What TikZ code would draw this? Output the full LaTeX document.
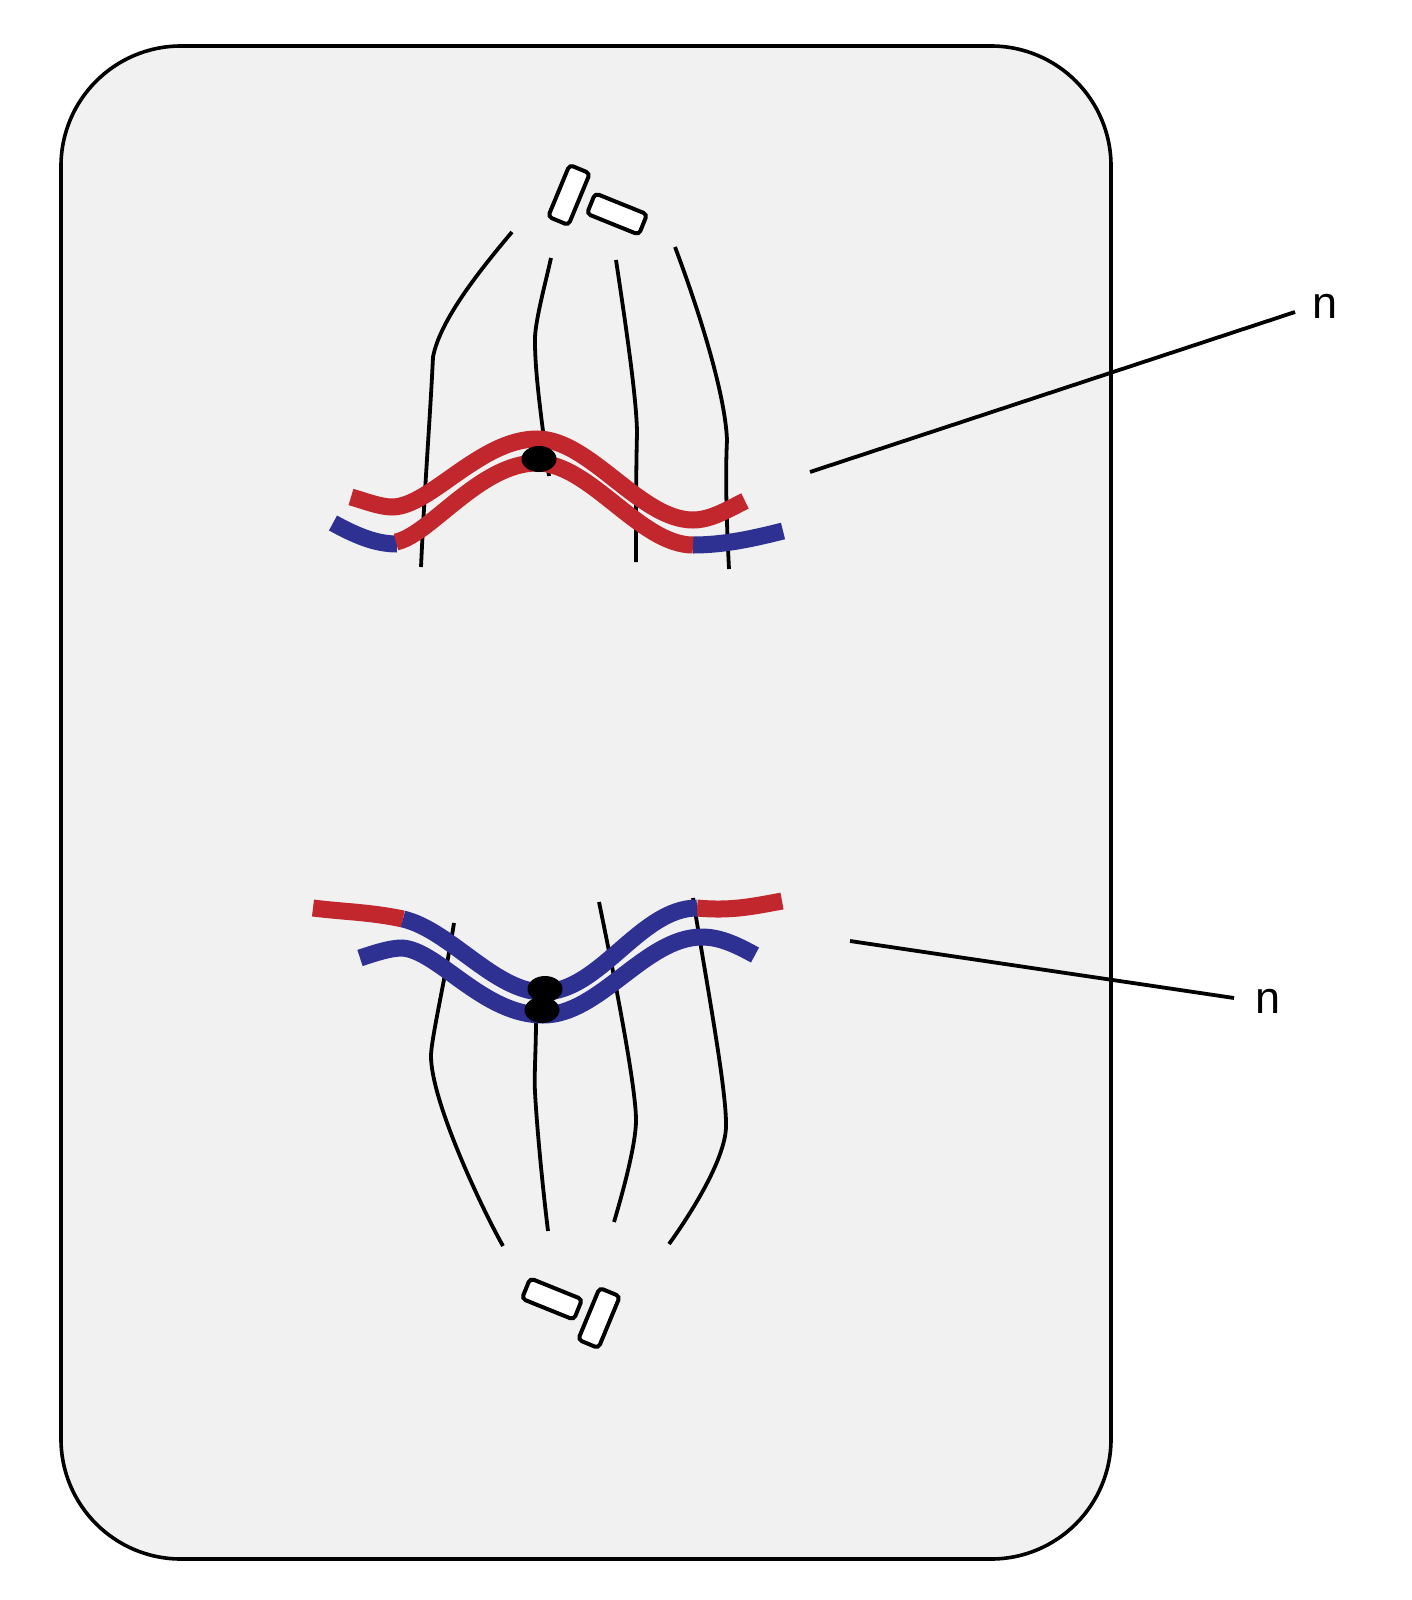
\documentclass[tikz,border=0pt]{standalone}
\usepackage{fontspec}
\setmainfont{Liberation Sans}
\usetikzlibrary{shapes.geometric}
\definecolor{crimson}{HTML}{C1272D}
\definecolor{navy}{HTML}{2E3192}
\definecolor{cellgray}{HTML}{F1F1F1}
\tikzset{
  cell/.style={draw=black,line width=3.6pt,fill=cellgray,rounded corners=120pt},
  fibre/.style={draw=black,line width=3.8pt,line join=round},
  redarm/.style={draw=crimson,line width=17pt},
  bluearm/.style={draw=navy,line width=17pt},
  kineto/.style={fill=black,draw=none,ellipse,minimum width=35pt,minimum height=26pt,inner sep=0pt},
  centriole/.style={draw=black,line width=4pt,fill=white,rounded corners=4pt,minimum width=56pt,minimum height=22pt,inner sep=0pt},
  leader/.style={draw=black,line width=3.8pt},
  lab/.style={font=\fontsize{45}{45}\selectfont,inner sep=0pt}
}
\begin{document}
\begin{tikzpicture}[x=1pt,y=-1pt]
\useasboundingbox (0,0) rectangle (1412,1600);
\path[cell] (61,46) rectangle (1111,1559);
% upper spindle fibres
\draw[fibre] (512,232) .. controls (480,270) and (440,320) .. (433,357) .. controls (430,420) and (425,480) .. (421,567);
\draw[fibre] (551,258) .. controls (545,285) and (534,325) .. (535,342) .. controls (535,370) and (540,410) .. (549,476);
\draw[fibre] (616,260) .. controls (625,320) and (637,400) .. (637,434) .. controls (636,470) and (636,520) .. (636,562);
\draw[fibre] (675,247) .. controls (695,300) and (725,390) .. (727,440) .. controls (725,480) and (727,530) .. (729,569);
% lower spindle fibres
\draw[fibre] (454,923) .. controls (445,980) and (431,1040) .. (431,1056) .. controls (431,1100) and (480,1205) .. (503,1246);
\draw[fibre] (536,1020) .. controls (536,1050) and (534,1075) .. (535,1092) .. controls (537,1130) and (543,1190) .. (548,1231);
\draw[fibre] (599,902) .. controls (612,965) and (636,1085) .. (636,1120) .. controls (636,1145) and (622,1195) .. (614,1222);
\draw[fibre] (693,898) .. controls (705,975) and (727,1090) .. (726,1127) .. controls (725,1160) and (690,1215) .. (669,1244);
% upper chromosome
\draw[bluearm] (333,523) .. controls (355,535) and (375,544) .. (397,544);
\draw[bluearm] (693,545) .. controls (725,545) and (755,538) .. (783,531);
\draw[redarm] (351,497) .. controls (365,501) and (380,507) .. (392,507) .. controls (430,507) and (480,439) .. (537,439) .. controls (590,439) and (640,520) .. (693,520) .. controls (712,520) and (730,508) .. (745,501);
\draw[redarm] (396,542) .. controls (430,535) and (480,463) .. (537,463) .. controls (590,463) and (640,545) .. (693,545);
\node[kineto] (k1) at (539,459) {};
% lower chromosome
\draw[redarm] (313,908) .. controls (345,912) and (370,912) .. (403,919);
\draw[redarm] (697,908) .. controls (730,911) and (750,907) .. (782,901);
\draw[bluearm] (403,919) .. controls (450,930) and (495,992) .. (543,992) .. controls (600,992) and (640,908) .. (697,908);
\draw[bluearm] (360,958) .. controls (375,953) and (390,948) .. (402,948) .. controls (438,950) and (483,1015) .. (543,1015) .. controls (600,1015) and (645,937) .. (702,937) .. controls (722,937) and (740,947) .. (755,955);
\node[kineto] (k2) at (545,989) {};
\node[kineto] (k3) at (542,1010) {};
% centrioles
\node[centriole,rotate=67.5] (c1) at (569,195) {};
\node[centriole,rotate=-22] (c2) at (617,214) {};
\node[centriole,rotate=-22] (c3) at (552,1299) {};
\node[centriole,rotate=67.5] (c4) at (599,1318) {};
% labels and leaders
\node[lab] (n1) at (1325,306) {n};
\node[lab] (n2) at (1268,1001) {n};
\coordinate (a1) at (810,472);
\coordinate (b1) at (1295,312);
\coordinate (a2) at (850,941);
\coordinate (b2) at (1234,998);
\draw[leader] (a1) -- (b1);
\draw[leader] (a2) -- (b2);
\end{tikzpicture}
\end{document}
